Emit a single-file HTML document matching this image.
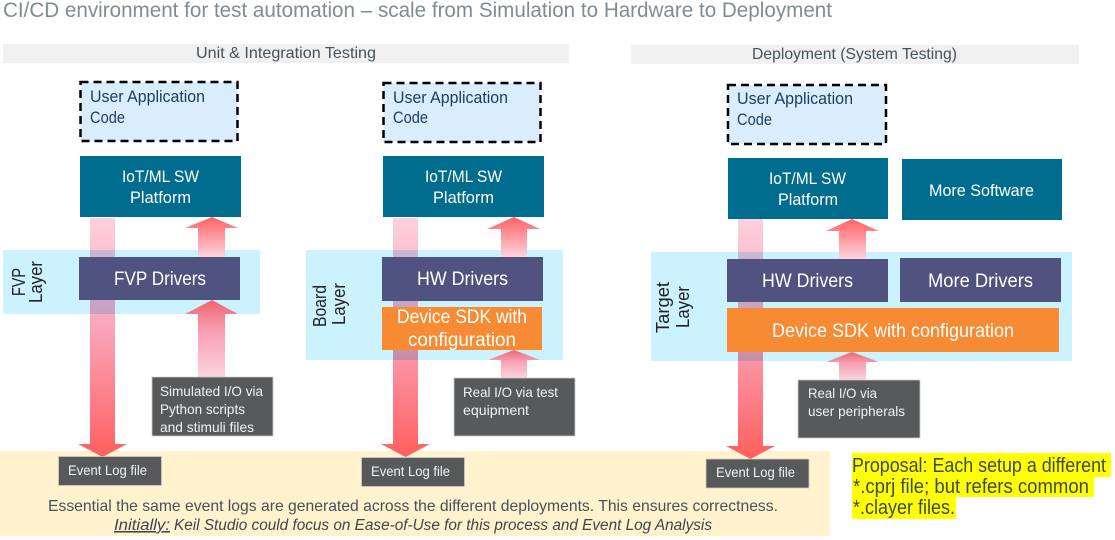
<!DOCTYPE html>
<html><head><meta charset="utf-8">
<style>html,body{margin:0;padding:0;background:#fff}svg{display:block}text{font-family:"Liberation Sans",sans-serif}</style>
</head><body>
<svg xmlns="http://www.w3.org/2000/svg" width="1115" height="540" viewBox="0 0 1115 540">
<defs>
<linearGradient id="dn" x1="0" y1="0" x2="0" y2="1"><stop offset="0" stop-color="#fcd0dc"/><stop offset=".45" stop-color="#f9a6bc"/><stop offset="1" stop-color="#ff5f5f"/></linearGradient>
<linearGradient id="up" x1="0" y1="0" x2="0" y2="1"><stop offset="0" stop-color="#ff6266"/><stop offset="1" stop-color="#fcd4de"/></linearGradient>
<linearGradient id="up2" x1="0" y1="0" x2="0" y2="1"><stop offset="0" stop-color="#ee6570"/><stop offset=".4" stop-color="#f79fb3"/><stop offset="1" stop-color="#fcd4de"/></linearGradient>
</defs>
<rect width="1115" height="540" fill="#fff"/>
<text x="3" y="17" font-size="21" fill="#7f8c94" textLength="829" lengthAdjust="spacingAndGlyphs">CI/CD environment for test automation – scale from Simulation to Hardware to Deployment</text>
<rect x="3" y="44" width="566" height="19" fill="#f0f0f0"/>
<rect x="631" y="45" width="448" height="19" fill="#f0f0f0"/>
<g font-size="16" fill="#44525c">
<text x="196" y="58" textLength="180" lengthAdjust="spacingAndGlyphs">Unit &amp; Integration Testing</text>
<text x="752" y="59" textLength="205" lengthAdjust="spacingAndGlyphs">Deployment (System Testing)</text>
</g>

<rect x="0" y="451" width="830" height="85" fill="#fff2cc"/>

<!-- down arrows -->
<path d="M90 218H115V444H127L102.500 457L78 444H90Z" fill="url(#dn)"/>
<path d="M393 218H418V444H430L405.500 457L381 444H393Z" fill="url(#dn)"/>
<path d="M738 219H763V446H775L750.500 459L726 446H738Z" fill="url(#dn)"/>

<!-- layers -->
<g fill="#ccf1ff" style="mix-blend-mode:multiply">
<rect x="3" y="250" width="257" height="64"/>
<rect x="306" y="250" width="257" height="110"/>
<rect x="651" y="252" width="421" height="109"/>
</g>

<!-- up arrows -->
<path d="M212 217L238 228H225V257H198V228H185Z" fill="url(#up)"/>
<path d="M212 300L238 314H225V377H198V314H185Z" fill="url(#up2)"/>
<path d="M514 217L540 229H527V257H501V229H487Z" fill="url(#up)"/>
<path d="M514 350L540 360H527V378H501V360H488Z" fill="url(#up2)"/>
<path d="M852 219L879 231H866V259H839V231H826Z" fill="url(#up)"/>
<path d="M852 352L879 362H866V380H839V362H826Z" fill="url(#up2)"/>

<!-- user app -->
<g fill="#d9edfc" stroke="#000" stroke-width="2.500" stroke-dasharray="8 5">
<rect x="80.500" y="82" width="157" height="59"/>
<rect x="383.500" y="83" width="157" height="59"/>
<rect x="728" y="85" width="158" height="59"/>
</g>
<g font-size="16.500" fill="#1c3d5e">
<text x="90" y="102" textLength="115" lengthAdjust="spacingAndGlyphs">User Application</text>
<text x="90" y="123" textLength="35" lengthAdjust="spacingAndGlyphs">Code</text>
<text x="393" y="103" textLength="115" lengthAdjust="spacingAndGlyphs">User Application</text>
<text x="393" y="123" textLength="35" lengthAdjust="spacingAndGlyphs">Code</text>
<text x="737" y="104" textLength="116" lengthAdjust="spacingAndGlyphs">User Application</text>
<text x="737" y="125" textLength="35" lengthAdjust="spacingAndGlyphs">Code</text>
</g>

<!-- teal -->
<g fill="#006d8e">
<rect x="80" y="156" width="161" height="61"/>
<rect x="383" y="156" width="161" height="61"/>
<rect x="728" y="158" width="160" height="61"/>
<rect x="902" y="159" width="160" height="61"/>
</g>
<!-- drivers -->
<g fill="#50527f">
<rect x="79" y="257" width="161" height="43"/>
<rect x="382" y="257" width="161" height="44"/>
<rect x="727" y="259" width="161" height="43"/>
<rect x="900" y="258" width="161" height="44"/>
</g>
<!-- orange -->
<g fill="#f68b33">
<rect x="382" y="307" width="160" height="43"/>
<rect x="727" y="308" width="332" height="44"/>
</g>
<!-- gray boxes -->
<g fill="#58595b" stroke="#c9cbcd" stroke-width=".8">
<rect x="152" y="377" width="121" height="59"/>
<rect x="454" y="378" width="121" height="58"/>
<rect x="798" y="380" width="122" height="58"/>
<rect x="58.500" y="456.500" width="103" height="29"/>
<rect x="361.500" y="457.500" width="103" height="29"/>
<rect x="706" y="459" width="103" height="29"/>
</g>

<g fill="#fff" font-size="16.500">
<text x="122" y="182" textLength="77" lengthAdjust="spacingAndGlyphs">IoT/ML SW</text>
<text x="130" y="203" textLength="61" lengthAdjust="spacingAndGlyphs">Platform</text>
<text x="425" y="182" textLength="77" lengthAdjust="spacingAndGlyphs">IoT/ML SW</text>
<text x="433" y="203" textLength="61" lengthAdjust="spacingAndGlyphs">Platform</text>
<text x="769" y="184" textLength="77" lengthAdjust="spacingAndGlyphs">IoT/ML SW</text>
<text x="778" y="205" textLength="60" lengthAdjust="spacingAndGlyphs">Platform</text>
<text x="929" y="196" textLength="105" lengthAdjust="spacingAndGlyphs">More Software</text>
</g>
<g fill="#fff" font-size="19.500">
<text x="114" y="285" textLength="92" lengthAdjust="spacingAndGlyphs">FVP Drivers</text>
<text x="417" y="285" textLength="91" lengthAdjust="spacingAndGlyphs">HW Drivers</text>
<text x="762" y="287" textLength="91" lengthAdjust="spacingAndGlyphs">HW Drivers</text>
<text x="928" y="287" textLength="105" lengthAdjust="spacingAndGlyphs">More Drivers</text>
<text x="397" y="323" textLength="130" lengthAdjust="spacingAndGlyphs">Device SDK with</text>
<text x="408" y="346" textLength="108" lengthAdjust="spacingAndGlyphs">configuration</text>
<text x="772" y="337" textLength="242" lengthAdjust="spacingAndGlyphs">Device SDK with configuration</text>
</g>
<g fill="#f2f2f2" font-size="14">
<text x="160" y="396" textLength="103" lengthAdjust="spacingAndGlyphs">Simulated I/O via</text>
<text x="160" y="414" textLength="85" lengthAdjust="spacingAndGlyphs">Python scripts</text>
<text x="160" y="432" textLength="94" lengthAdjust="spacingAndGlyphs">and stimuli files</text>
<text x="463" y="397" textLength="95" lengthAdjust="spacingAndGlyphs">Real I/O via test</text>
<text x="463" y="415" textLength="66" lengthAdjust="spacingAndGlyphs">equipment</text>
<text x="808" y="398" textLength="69" lengthAdjust="spacingAndGlyphs">Real I/O via</text>
<text x="808" y="416" textLength="97" lengthAdjust="spacingAndGlyphs">user peripherals</text>
<text x="68" y="475" textLength="79" lengthAdjust="spacingAndGlyphs">Event Log file</text>
<text x="371" y="476" textLength="79" lengthAdjust="spacingAndGlyphs">Event Log file</text>
<text x="716" y="477" textLength="79" lengthAdjust="spacingAndGlyphs">Event Log file</text>
</g>

<!-- rotated labels -->
<g font-size="18.500" fill="#222">
<text transform="translate(25,296) rotate(-90)" textLength="28" lengthAdjust="spacingAndGlyphs">FVP</text>
<text transform="translate(42,303) rotate(-90)" textLength="42" lengthAdjust="spacingAndGlyphs">Layer</text>
<text transform="translate(326,327) rotate(-90)" textLength="42" lengthAdjust="spacingAndGlyphs">Board</text>
<text transform="translate(345,325) rotate(-90)" textLength="42" lengthAdjust="spacingAndGlyphs">Layer</text>
<text transform="translate(669,333) rotate(-90)" textLength="51" lengthAdjust="spacingAndGlyphs">Target</text>
<text transform="translate(689,328) rotate(-90)" textLength="42" lengthAdjust="spacingAndGlyphs">Layer</text>
</g>

<!-- panel text -->
<text x="48" y="511" font-size="16" fill="#44525c" textLength="730" lengthAdjust="spacingAndGlyphs">Essential the same event logs are generated across the different deployments. This ensures correctness.</text>
<text x="114" y="530" font-size="15.500" font-style="italic" fill="#3c4650" text-decoration="underline" textLength="56" lengthAdjust="spacingAndGlyphs">Initially:</text>
<text x="174" y="530" font-size="15.500" font-style="italic" fill="#3c4650" textLength="538" lengthAdjust="spacingAndGlyphs">Keil Studio could focus on Ease-of-Use for this process and Event Log Analysis</text>

<!-- proposal -->
<rect x="852" y="453" width="259" height="24" fill="#ffff00"/>
<rect x="852" y="477" width="242" height="20" fill="#ffff00"/>
<rect x="852" y="497" width="104" height="22" fill="#ffff00"/>
<g font-size="20" fill="#3d4a55">
<text x="852" y="472" textLength="254" lengthAdjust="spacingAndGlyphs">Proposal: Each setup a different</text>
<text x="853" y="493" textLength="236" lengthAdjust="spacingAndGlyphs">*.cprj file; but refers common</text>
<text x="853" y="514" textLength="102" lengthAdjust="spacingAndGlyphs">*.clayer files.</text>
</g>
</svg>
</body></html>
